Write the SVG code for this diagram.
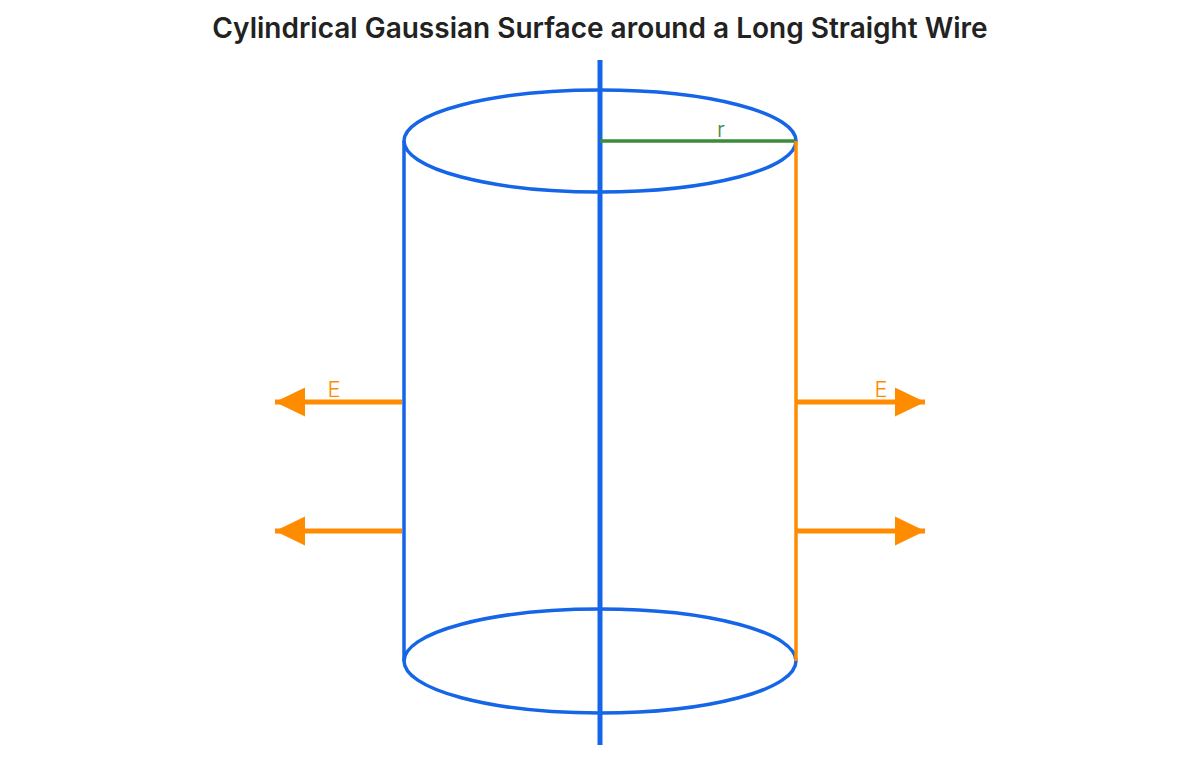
<svg xmlns="http://www.w3.org/2000/svg" width="1200" height="763" viewBox="0 0 1200 763">
<style>
.cyl{fill:none;stroke:#1565e8;stroke-width:3.5}
.e{stroke:#ff8c00;stroke-width:5;fill:none}
.lbl{font-family:Inter,"Liberation Sans",sans-serif;font-size:22px;font-weight:300;text-anchor:middle}
</style>
<defs><marker id="ah" markerWidth="7" markerHeight="7" refX="6" refY="3.5" orient="auto" markerUnits="strokeWidth"><path d="M0,0.6 L6,3.5 L0,6.4 Z" fill="#ff8c00"/></marker></defs>
<rect width="1200" height="763" fill="#fff"/>
<text x="600" y="38" font-family="Inter,'Liberation Sans',sans-serif" font-size="28" font-weight="600" fill="#222" text-anchor="middle">Cylindrical Gaussian Surface around a Long Straight Wire</text>
<g id="cylinder">
<ellipse class="cyl" cx="600" cy="141" rx="196" ry="51"/>
<ellipse class="cyl" cx="600" cy="661" rx="196" ry="52"/>
<line class="cyl" x1="404" y1="141" x2="404" y2="661"/>
</g>
<g id="wire"><line x1="600" y1="60" x2="600" y2="745" stroke="#1565e8" stroke-width="5"/></g>
<g id="radius"><line x1="600" y1="141" x2="796" y2="141" stroke="#3c8a3c" stroke-width="3.5"/><text class="lbl" x="721" y="137" fill="#3c8a3c">r</text></g>
<g id="rightside"><line x1="796" y1="141" x2="796" y2="661" stroke="#ff8c00" stroke-width="3.5"/></g>
<g id="connectors">
<line class="e" x1="402" y1="402" x2="275" y2="402" marker-end="url(#ah)"/>
<line class="e" x1="402" y1="531" x2="275" y2="531" marker-end="url(#ah)"/>
<line class="e" x1="796" y1="402" x2="925" y2="402" marker-end="url(#ah)"/>
<line class="e" x1="796" y1="531" x2="925" y2="531" marker-end="url(#ah)"/>
</g>
<text class="lbl" x="334" y="397" fill="#ff8c00">E</text>
<text class="lbl" x="881" y="397" fill="#ff8c00">E</text>
</svg>
